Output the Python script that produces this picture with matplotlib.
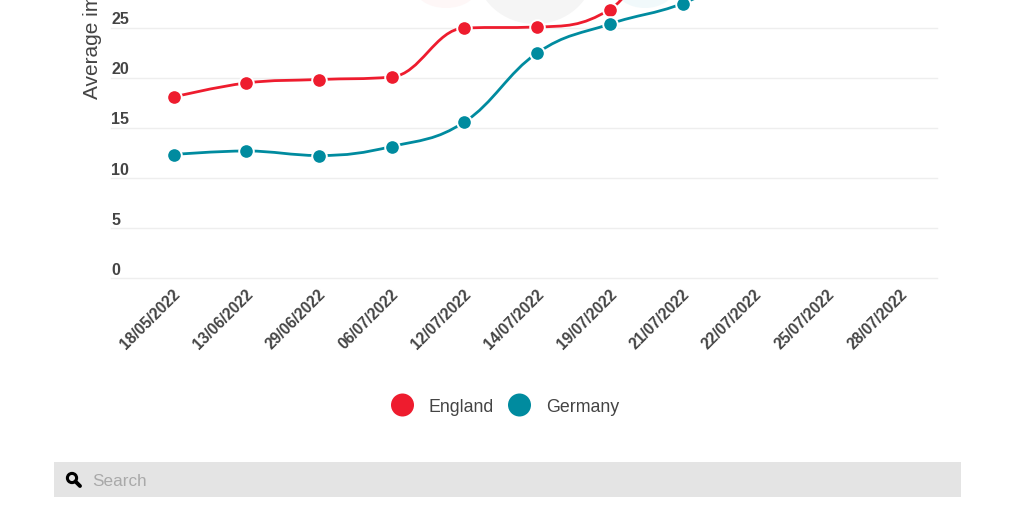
import matplotlib
matplotlib.use('Agg')
import matplotlib.pyplot as plt
from matplotlib.path import Path
from matplotlib.patches import PathPatch, Rectangle, Ellipse, Circle
from matplotlib.lines import Line2D

plt.rcParams['font.family'] = ['Liberation Sans', 'DejaVu Sans']

fechas = ['18/05/2022', '13/06/2022', '29/06/2022', '06/07/2022', '12/07/2022', '14/07/2022',
          '19/07/2022', '21/07/2022', '22/07/2022', '25/07/2022', '28/07/2022']
england = [18.1, 19.5, 19.85, 20.1, 25.0, 25.1, 26.85, 38.0]
germany = [12.35, 12.7, 12.25, 13.15, 15.6, 22.5, 25.4, 27.45, 31.0]
y_ticks = [0, 5, 10, 15, 20, 25]
series = ['England', 'Germany']
rojo = '#ee1c2e'
azul = '#008b9f'
gris_texto = '#444444'


# Puntos de control de un punto intermedio, como hace el spline de Highcharts
def controles(ys, i):
    k = 1.5
    d = k + 1
    izq_x = (k * i + i - 1) / d
    izq_y = (k * ys[i] + ys[i - 1]) / d
    der_x = (k * i + i + 1) / d
    der_y = (k * ys[i] + ys[i + 1]) / d
    corr = (der_y - izq_y) * (der_x - i) / (der_x - izq_x) + ys[i] - der_y
    izq_y += corr
    der_y += corr
    # sin pasarse de los puntos vecinos
    if izq_y > ys[i - 1] and izq_y > ys[i]:
        izq_y = max(ys[i - 1], ys[i])
        der_y = 2 * ys[i] - izq_y
    elif izq_y < ys[i - 1] and izq_y < ys[i]:
        izq_y = min(ys[i - 1], ys[i])
        der_y = 2 * ys[i] - izq_y
    if der_y > ys[i + 1] and der_y > ys[i]:
        der_y = max(ys[i + 1], ys[i])
        izq_y = 2 * ys[i] - der_y
    elif der_y < ys[i + 1] and der_y < ys[i]:
        der_y = min(ys[i + 1], ys[i])
        izq_y = 2 * ys[i] - der_y
    return (izq_x, izq_y), (der_x, der_y)


def curva(ys):
    verts = [(0, ys[0])]
    codes = [Path.MOVETO]
    salida = (0, ys[0])
    for i in range(1, len(ys)):
        if i + 1 < len(ys):
            llegada, siguiente = controles(ys, i)
        else:
            llegada = siguiente = (i, ys[i])
        verts += [salida, llegada, (i, ys[i])]
        codes += [Path.CURVE4, Path.CURVE4, Path.CURVE4]
        salida = siguiente
    return Path(verts, codes)


fig = plt.figure(figsize=(10.24, 5.12), dpi=100)

# Fondo en coordenadas de pixel para la leyenda y el buscador
fondo = fig.add_axes([0, 0, 1, 1])
fondo.set_xlim(0, 1024)
fondo.set_ylim(512, 0)
fondo.axis('off')

# Formas muy claras detras del grafico (cortadas arriba)
fondo.add_patch(Ellipse((446, -12), 62, 40, color='#fef7f7', lw=0))
fondo.add_patch(Ellipse((535, -30), 118, 108, color='#f5f5f5', lw=0))
fondo.add_patch(Ellipse((645, -10), 56, 36, color='#f1f9fb', lw=0))

# Eje principal: la cuadricula va de x=111 a x=937 y el 0 esta en y=278
ax = fig.add_axes([111 / 1024, (512 - 278) / 512, (937 - 111) / 1024, 278 / 512])
ax.patch.set_alpha(0)
ax.set_xlim((111 - 173.6) / 72.7, (937 - 173.6) / 72.7)
ax.set_ylim(0, 27.8)
for s in ax.spines.values():
    s.set_visible(False)
ax.set_yticks(y_ticks)
ax.set_yticklabels([])
ax.yaxis.grid(True, color='#eeeeee', lw=1)
for g in ax.get_ygridlines():
    g.set_clip_on(False)
ax.set_axisbelow(True)
ax.tick_params(length=0)
ax.set_xticks(range(len(fechas)))
ax.set_xticklabels([])

for ys, color in [(england, rojo), (germany, azul)]:
    ax.add_patch(PathPatch(curva(ys), fc='none', ec=color, lw=2.0, zorder=3))
    ax.plot(range(len(ys)), ys, ls='none', marker='o', ms=10.5, mfc=color, mec='white', mew=1.4,
            zorder=4, clip_on=True)

for v in y_ticks:
    fondo.text(111, 270.5 - v * 10.04, str(v), fontsize=11.5, fontweight='bold', color=gris_texto,
               ha='left', va='center')

for i, f in enumerate(fechas):
    fondo.text(173.6 + i * 72.7 - 1, 287, f, fontsize=11.2, fontweight='bold', color=gris_texto, rotation=45,
               ha='right', va='top', rotation_mode='anchor')

fondo.text(93, 99, 'Average im', fontsize=15, color=gris_texto, rotation=90, ha='center', va='bottom',
           clip_on=False)

# Leyenda
fondo.add_patch(Ellipse((402.5, 405), 23, 23, color=rojo, lw=0))
fondo.add_patch(Ellipse((519.5, 405), 23, 23, color=azul, lw=0))
fondo.text(429, 407, series[0], fontsize=12.8, color=gris_texto, va='center')
fondo.text(546, 407, series[1], fontsize=12.8, color=gris_texto, va='center')

# Buscador
fondo.add_patch(Rectangle((54, 462), 907, 35, color='#e4e4e4', lw=0))
fondo.add_patch(Circle((72, 478), 4.6, fc='none', ec='black', lw=2.2))
fondo.add_line(Line2D([75.5, 80], [481.5, 486], color='black', lw=2.8, solid_capstyle='round'))
fondo.text(92, 481, 'Search', fontsize=12.3, color='#a9a9a9', va='center')

fig.savefig('out.png', dpi=100)
